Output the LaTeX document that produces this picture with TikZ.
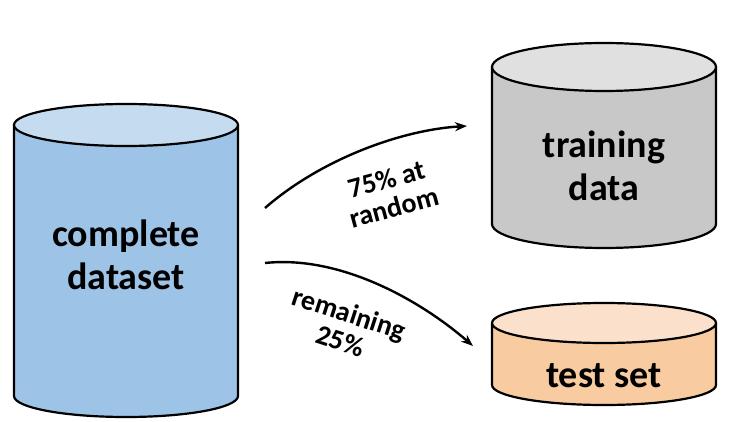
\documentclass[tikz,border=0pt]{standalone}
\usepackage{fontspec}
\setmainfont{Carlito}
\usetikzlibrary{arrows.meta}
\begin{document}
\begin{tikzpicture}[x=1pt,y=-1pt,line width=2.2pt,
  lbl/.style={font=\fontsize{38}{43}\selectfont\bfseries,align=center},
  small/.style={font=\fontsize{28}{29}\selectfont\bfseries,align=center},
  arr/.style={-{Stealth[length=12pt,width=9pt]},line width=2.4pt}]
\useasboundingbox (0,0) rectangle (730,422);
\newcommand\mycyl[7]{%
  \filldraw[fill=#6] (#1,#3) -- (#1,#4) arc[start angle=180,end angle=0,x radius={(#2-#1)/2},y radius=#5] -- (#2,#3);
  \filldraw[fill=#7] ({(#1+#2)/2},#3) ellipse[x radius={(#2-#1)/2},y radius=#5];}
\definecolor{bb}{HTML}{9DC3E6}\definecolor{bt}{HTML}{C5DCF0}
\definecolor{gb}{HTML}{C8C8C8}\definecolor{gt}{HTML}{E0E0E0}
\definecolor{ob}{HTML}{F8CBA0}\definecolor{ot}{HTML}{FBE1CB}
\mycyl{14}{238}{125}{396}{21}{bb}{bt}
\mycyl{492}{716}{67}{224}{24}{gb}{gt}
\mycyl{492}{716}{323}{385}{20}{ob}{ot}
\node[lbl] (c) at (126,255) {complete\\dataset};
\node[lbl] (t) at (604,166) {training\\data};
\node[lbl] (s) at (604,376) {test set};
\coordinate (a1) at (265,208); \coordinate (a2) at (467,126);
\coordinate (b1) at (265,263); \coordinate (b2) at (473,346);
\draw[arr] (a1) .. controls (320,160) and (400,130) .. (a2);
\draw[arr] (b1) .. controls (340,255) and (420,300) .. (b2);
\node[small,rotate=15] (l1) at (390,193) {75\% at\\random};
\node[small,rotate=-18] (l2) at (345,327) {remaining\\25\%};
\end{tikzpicture}
\end{document}
